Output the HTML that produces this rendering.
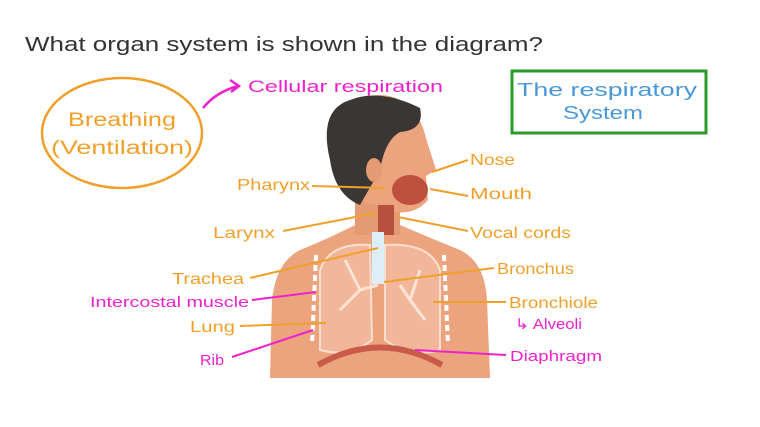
<!DOCTYPE html>
<html><head><meta charset="utf-8"><style>
html,body{margin:0;padding:0;background:#fff;}
svg{display:block;}
text{font-family:"Liberation Sans",sans-serif;}
</style></head><body>
<svg width="760" height="427" viewBox="0 0 760 427" xmlns="http://www.w3.org/2000/svg">
<rect width="760" height="427" fill="#fff"/>
<text x="25" y="51" font-size="20" fill="#333" textLength="518" lengthAdjust="spacingAndGlyphs">What organ system is shown in the diagram?</text>
<!-- oval -->
<ellipse cx="122" cy="133" rx="80" ry="55" fill="none" stroke="#f0a02a" stroke-width="2.5"/>
<text x="122" y="126" font-size="19" fill="#f0a02a" text-anchor="middle" textLength="108" lengthAdjust="spacingAndGlyphs">Breathing</text>
<text x="122" y="154" font-size="19" fill="#f0a02a" text-anchor="middle" textLength="142" lengthAdjust="spacingAndGlyphs">(Ventilation)</text>
<path d="M203 108 Q216 92 238 86" fill="none" stroke="#ee22cc" stroke-width="2.5"/>
<path d="M230 80 L239 86 L231 92" fill="none" stroke="#ee22cc" stroke-width="2.5"/>
<text x="248" y="92" font-size="17" fill="#ee22cc" textLength="195" lengthAdjust="spacingAndGlyphs">Cellular respiration</text>
<!-- box -->
<rect x="512" y="71" width="194" height="62" fill="none" stroke="#2a9a2a" stroke-width="3"/>
<text x="517" y="96" font-size="18" fill="#4a98d8" textLength="180" lengthAdjust="spacingAndGlyphs">The respiratory</text>
<text x="563" y="119" font-size="18" fill="#4a98d8" textLength="80" lengthAdjust="spacingAndGlyphs">System</text>
<!-- figure -->
<path d="M270 378 L272 300 Q276 262 300 250 Q330 238 355 225 L400 225 Q430 238 460 250 Q485 262 487 300 L490 378 Z" fill="#eba47e"/>
<rect x="355" y="170" width="45" height="65" fill="#e49a72"/>
<ellipse cx="380" cy="150" rx="47" ry="55" fill="#eba47e"/>
<path d="M425 135 L436 170 L426 176 L428 200 Q415 215 395 212 L380 190 Z" fill="#eba47e"/>
<path d="M330 160 Q318 110 350 100 Q380 88 420 108 Q425 130 400 132 Q385 140 380 170 L360 205 Q335 195 330 160 Z" fill="#3a3634"/>
<ellipse cx="374" cy="170" rx="8" ry="12" fill="#e49a72"/>
<ellipse cx="410" cy="190" rx="18" ry="15" fill="#c0503e"/>
<rect x="378" y="205" width="16" height="30" fill="#b8503e"/>
<!-- lungs -->
<path d="M320 270 Q330 242 370 245 L372 340 Q350 358 320 350 Z" fill="#f2b69a" stroke="#fbe0d0" stroke-width="2"/>
<path d="M385 245 Q430 242 440 270 L440 350 Q410 358 385 340 Z" fill="#f2b69a" stroke="#fbe0d0" stroke-width="2"/>
<rect x="372" y="232" width="12" height="52" fill="#dceef8"/>
<path d="M345 260 L360 290 L340 310 M360 290 L378 285 M400 285 L410 300 L420 270 M410 300 L425 320" stroke="#fbe4d6" stroke-width="3" fill="none"/>
<path d="M318 365 Q380 330 442 365" fill="none" stroke="#c85c48" stroke-width="6"/>
<path d="M316 255 L312 345 M444 255 L448 345" stroke="#fff" stroke-width="4" stroke-dasharray="6 4"/>
<!-- orange lines -->
<g stroke="#f0a02a" stroke-width="2" fill="none">
<line x1="312" y1="186" x2="385" y2="188"/>
<line x1="432" y1="172" x2="468" y2="160"/>
<line x1="430" y1="189" x2="468" y2="196"/>
<line x1="283" y1="231" x2="376" y2="213"/>
<line x1="398" y1="217" x2="468" y2="231"/>
<line x1="250" y1="278" x2="378" y2="248"/>
<line x1="384" y1="282" x2="494" y2="268"/>
<line x1="433" y1="302" x2="506" y2="302"/>
<line x1="240" y1="326" x2="326" y2="323"/>
</g>
<g stroke="#ee22cc" stroke-width="2" fill="none">
<line x1="252" y1="300" x2="316" y2="292"/>
<line x1="232" y1="357" x2="313" y2="330"/>
<line x1="415" y1="350" x2="506" y2="355"/>
</g>
<g font-size="16" fill="#f0a02a">
<text x="237" y="190" textLength="73" lengthAdjust="spacingAndGlyphs">Pharynx</text>
<text x="470" y="165" textLength="45" lengthAdjust="spacingAndGlyphs">Nose</text>
<text x="470" y="199" textLength="62" lengthAdjust="spacingAndGlyphs">Mouth</text>
<text x="213" y="238" textLength="62" lengthAdjust="spacingAndGlyphs">Larynx</text>
<text x="470" y="238" textLength="101" lengthAdjust="spacingAndGlyphs">Vocal cords</text>
<text x="172" y="284" textLength="72" lengthAdjust="spacingAndGlyphs">Trachea</text>
<text x="497" y="274" textLength="77" lengthAdjust="spacingAndGlyphs">Bronchus</text>
<text x="509" y="308" textLength="89" lengthAdjust="spacingAndGlyphs">Bronchiole</text>
<text x="190" y="332" textLength="45" lengthAdjust="spacingAndGlyphs">Lung</text>
</g>
<g font-size="15" fill="#ee22cc">
<text x="90" y="307" textLength="159" lengthAdjust="spacingAndGlyphs">Intercostal muscle</text>
<text x="515" y="329" textLength="67" lengthAdjust="spacingAndGlyphs">↳ Alveoli</text>
<text x="510" y="361" textLength="92" lengthAdjust="spacingAndGlyphs">Diaphragm</text>
<text x="200" y="365" textLength="24" lengthAdjust="spacingAndGlyphs">Rib</text>
</g>
</svg>
</body></html>
